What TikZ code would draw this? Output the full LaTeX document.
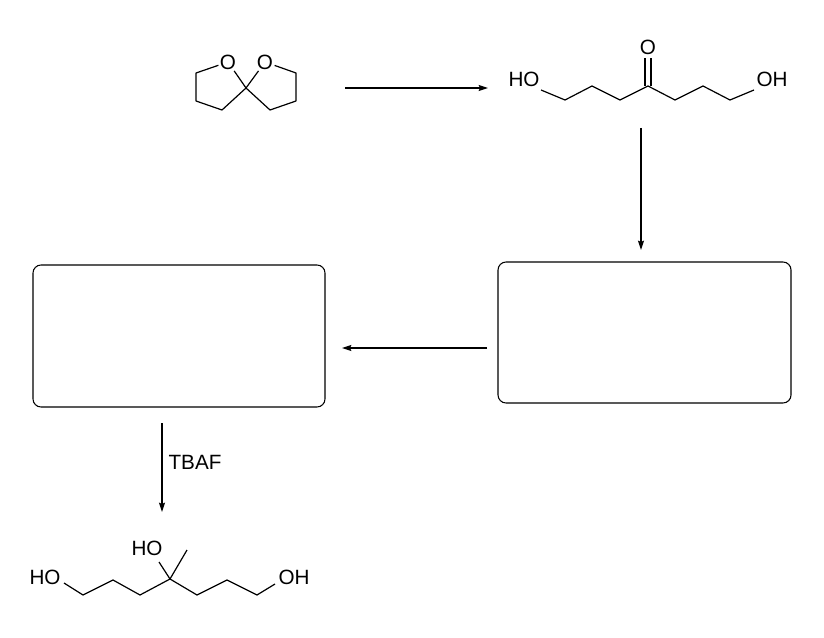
\documentclass[tikz,border=0pt]{standalone}
\usepackage{fontspec}
\usetikzlibrary{arrows.meta}
\setmainfont{Liberation Sans}
\begin{document}
\begin{tikzpicture}[x=0.75pt,y=-0.75pt,
  bond/.style={line width=0.9pt,line join=round},
  atom/.style={inner sep=1pt,font=\fontsize{15.5}{17}\selectfont},
  rxn/.style={line width=0.8pt,-{Stealth[length=7pt,width=4.5pt,inset=1pt]}},
  box/.style={draw,line width=0.8pt,rounded corners=6pt}]
\useasboundingbox (0,0) rectangle (824,638);
% spiro ketal
\node[atom] (o1) at (228,62) {O};
\node[atom] (o2) at (265,62) {O};
\coordinate (sp) at (246,88);
\draw[bond] (o1) -- (196,73) -- (196,101) -- (222,110) -- (sp) -- (o1);
\draw[bond] (o2) -- (296,73) -- (296,101) -- (270,110) -- (sp) -- (o2);
% arrow 1
\coordinate (a1s) at (345,88); \coordinate (a1e) at (488,88);
\draw[rxn] (a1s) -- (a1e);
% keto diol
\node[atom] (ho1) at (524,79) {HO};
\node[atom] (oh1) at (772,79) {OH};
\node[atom] (ok) at (648,47) {O};
\draw[bond] (541,90) -- (565,100) -- (592,86) -- (620,100) -- (648,86) -- (675,100) -- (703,86) -- (730,100) -- (754,90);
\draw[bond] (645,86) -- (645,58);
\draw[bond] (651,86) -- (651,58);
% arrow 2
\draw[rxn] (641,128) -- (641,250);
% boxes
\draw[box] (498,262) rectangle (791,403) node[pos=.5] (b2) {};
\draw[box] (33,265) rectangle (325,407) node[pos=.5] (b1) {};
\draw[rxn] (487,348) -- (342,348);
% TBAF
\draw[rxn] (162,423) -- (162,512);
\node[atom,anchor=west] (tb) at (167,462) {TBAF};
% triol
\node[atom] (ho2) at (45,577) {HO};
\node[atom] (oh2) at (294,577) {OH};
\node[atom] (ho3) at (147,548) {HO};
\draw[bond] (64,583) -- (83,595) -- (113,580) -- (140,595) -- (170,579) -- (197,595) -- (227,580) -- (257,595) -- (275,584);
\draw[bond] (170,579) -- (159,562);
\draw[bond] (170,579) -- (187,550);
\end{tikzpicture}
\end{document}
